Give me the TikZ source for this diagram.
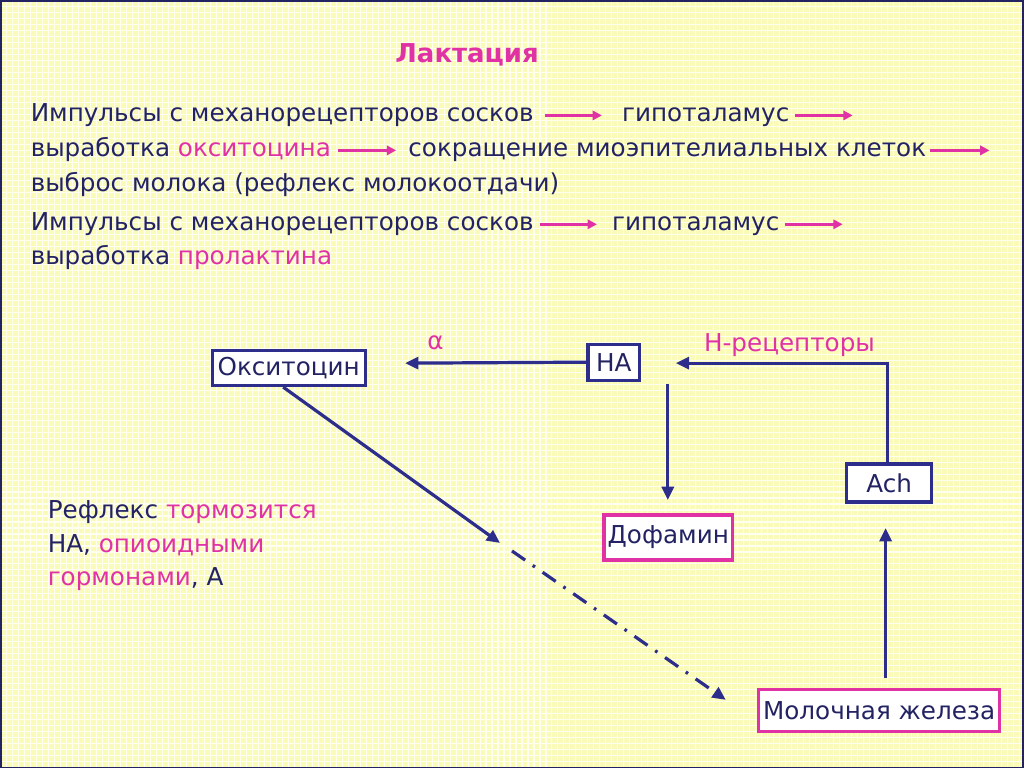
\documentclass[tikz,border=0pt]{standalone}
\usepackage{fontspec}
\setmainfont{DejaVu Sans}
\usetikzlibrary{arrows.meta}
\definecolor{navy}{RGB}{35,35,100}
\definecolor{lnavy}{RGB}{45,45,140}
\definecolor{mag}{RGB}{225,50,165}
\definecolor{bg}{RGB}{250,250,185}
\begin{document}
\begin{tikzpicture}[x=0.75pt,y=-0.75pt,
 txt/.style={anchor=base west,inner sep=0pt,text=navy,font=\fontsize{18.5}{20}\selectfont},
 marr/.style={draw=mag,line width=1.8pt,-{Triangle[length=7pt,width=7pt]}},
 barr/.style={draw=lnavy,line width=2.4pt,-{Triangle[length=10pt,width=9pt]}},
 bbox/.style={draw=lnavy,line width=2.4pt,fill=white,inner sep=2pt,text=navy,font=\fontsize{18.5}{20}\selectfont},
 pbox/.style={draw=mag,line width=2.4pt,fill=white,inner sep=2pt,text=navy,font=\fontsize{18.5}{20}\selectfont}]
\fill[bg] (0,0) rectangle (1024,768);
\draw[white,line width=0.8pt,opacity=0.8,step=4.5pt] (0,0) grid (1024,768);
\draw[navy,line width=1pt] (0.5,0.5) rectangle (1023.5,767.5);
\useasboundingbox (0,0) rectangle (1024,768);
\node[anchor=base west,inner sep=0pt,text=mag,font=\bfseries\fontsize{19.5}{22}\selectfont] (title) at (395,62) {Лактация};
% line 1
\node[txt] (l1a) at (30,121) {Импульсы с механорецепторов сосков};
\coordinate (a1s) at (545,115); \coordinate (a1e) at (602,115);
\draw[marr] (a1s) -- (a1e);
\node[txt] (l1b) at (622,121) {гипоталамус};
\coordinate (a2s) at (795,115); \coordinate (a2e) at (853,115);
\draw[marr] (a2s) -- (a2e);
% line 2
\node[txt] (l2a) at (30,156) {выработка \textcolor{mag}{окситоцина}};
\coordinate (a3s) at (338,150); \coordinate (a3e) at (396,150);
\draw[marr] (a3s) -- (a3e);
\node[txt] (l2b) at (408,156) {сокращение миоэпителиальных клеток};
\coordinate (a4s) at (930,150); \coordinate (a4e) at (990,150);
\draw[marr] (a4s) -- (a4e);
\node[txt] (l3) at (30,191) {выброс молока (рефлекс молокоотдачи)};
% line 4
\node[txt] (l4a) at (30,230) {Импульсы с механорецепторов сосков};
\coordinate (a5s) at (540,224); \coordinate (a5e) at (597,224);
\draw[marr] (a5s) -- (a5e);
\node[txt] (l4b) at (612,230) {гипоталамус};
\coordinate (a6s) at (785,224); \coordinate (a6e) at (843,224);
\draw[marr] (a6s) -- (a6e);
\node[txt] (l5) at (30,264) {выработка \textcolor{mag}{пролактина}};
% diagram
\node[bbox,minimum width=114.75pt,minimum height=26.25pt] (oxy) at (288.5,367.5) {Окситоцин};
\node[bbox,minimum width=39pt,minimum height=27pt] (na) at (614,362) {НА};
\node[bbox,minimum width=63.75pt,minimum height=28.5pt] (ach) at (889.5,483) {Ach};
\node[pbox,minimum width=96.75pt,minimum height=33.75pt] (dof) at (668.5,537.5) {Дофамин};
\node[pbox,minimum width=180.75pt,minimum height=31.5pt] (milk) at (879.5,711) {Молочная железа};
\node[txt,text=mag] (alpha) at (427,349) {α};
\node[txt,text=mag] (hr) at (704,351) {Н-рецепторы};
\coordinate (naL) at (405,363);
\draw[barr] (na.west) -- (naL);
\coordinate (achT) at (888,363);
\coordinate (hrE) at (676,363);
\draw[barr] (ach.north -| achT) -- (achT) -- (hrE);
\coordinate (dofT) at (668,500);
\draw[barr] (na.south -| dofT) ++(0,2) -- (dofT);
\coordinate (milkT) at (886,678); \coordinate (achB) at (886,528);
\draw[barr] (milkT) -- (achB);
\coordinate (d1) at (283,387); \coordinate (d2) at (500,543);
\coordinate (d3) at (512,551); \coordinate (d4) at (726,700);
\draw[barr] (d1) -- (d2);
\draw[barr,dash pattern=on 12pt off 7pt on 2pt off 7pt] (d3) -- (d4);
\node[txt] (r1) at (47,518) {Рефлекс \textcolor{mag}{тормозится}};
\node[txt] (r2) at (47,553) {НА, \textcolor{mag}{опиоидными}};
\node[txt] (r3) at (47,586) {\textcolor{mag}{гормонами}, А};
\end{tikzpicture}
\end{document}
